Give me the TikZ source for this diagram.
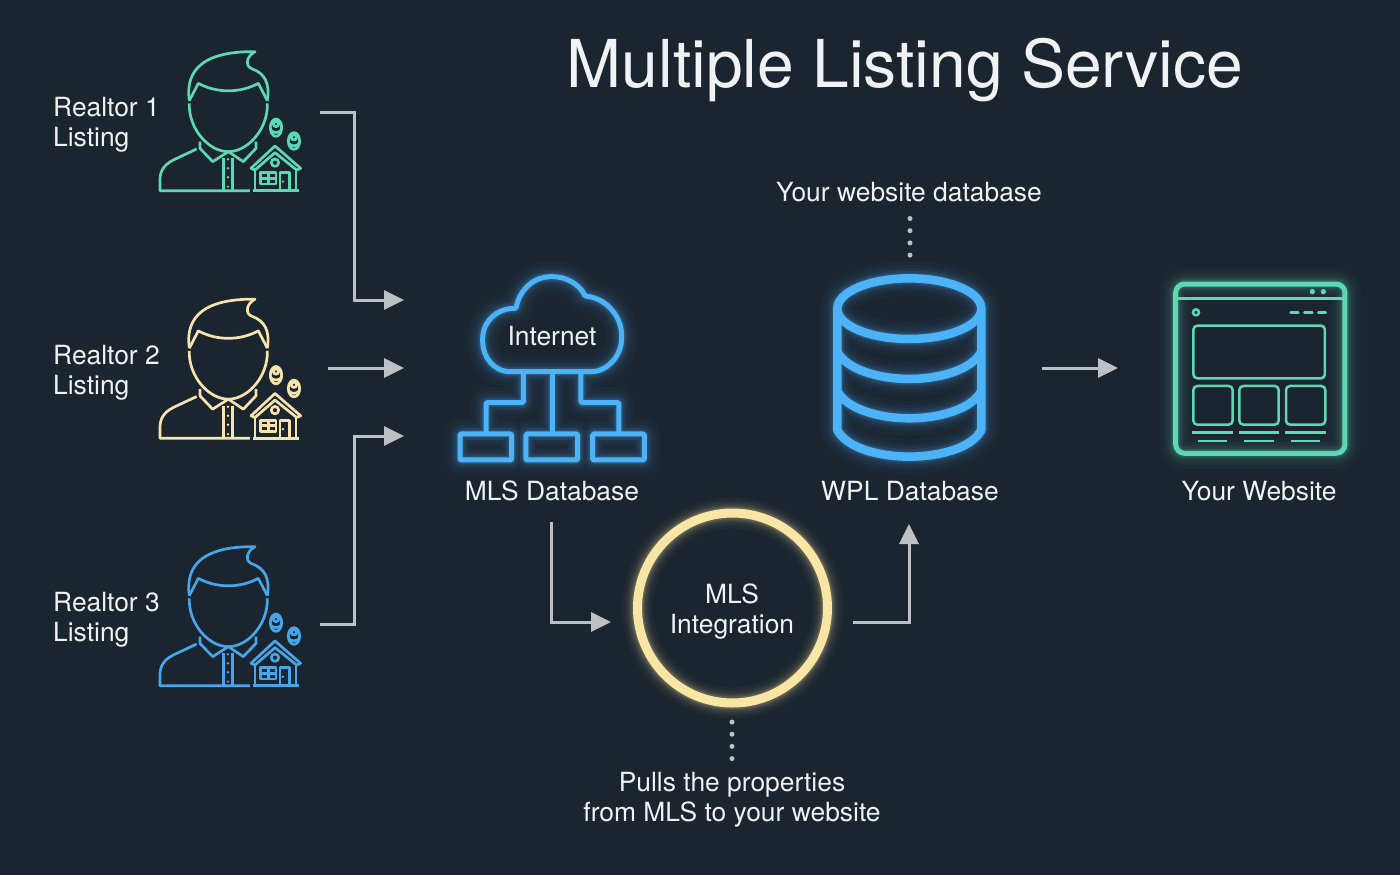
\documentclass[tikz,border=0pt]{standalone}
\usepackage{fontspec}
\setmainfont{TeX Gyre Heros}
\usetikzlibrary{arrows.meta}

\definecolor{bgdark}{HTML}{1B2530}
\definecolor{mintline}{HTML}{5CD8B2}
\definecolor{creamline}{HTML}{F6E4AC}
\definecolor{skyline}{HTML}{47A6EA}
\definecolor{netblue}{HTML}{4DB3F9}
\definecolor{ringcream}{HTML}{F9E5A4}
\definecolor{linkgrey}{HTML}{BDC1C6}
\definecolor{textwhite}{HTML}{F0F2F3}

% a path with a soft halo under it
\newcommand{\glowpath}[3]{
  \foreach \w/\o in {26/0.03,18/0.045,12/0.06,7/0.09,3/0.14}{
    \draw[#1,line width=#2pt+\w pt,opacity=\o,line join=round] #3;
  }
  \draw[#1,line width=#2pt,line join=round] #3;
}

\tikzset{
  link/.style={draw=linkgrey,line width=3pt,-{Triangle[length=20pt,width=19pt]}},
  dotline/.style={draw=linkgrey,line width=5pt,line cap=round,dash pattern=on 0pt off 12.2pt},
  label/.style={text=textwhite,font=\fontsize{26.4}{30}\selectfont,align=center},
  realtorlabel/.style={label,align=left,anchor=west,inner sep=0pt},
  pics/realtor/.style={code={
    \begin{scope}[draw=#1,line width=2.7pt,line join=round,x=0.3333pt,y=-0.3333pt]
      % hair and face
      \draw (148,182) .. controls (138,110) and (165,33) .. (345,35)
            .. controls (318,50) and (315,78) .. (335,86)
            .. controls (375,100) and (390,130) .. (382,182);
      \draw (148,182) -- (175,130) .. controls (230,160) and (300,160) .. (355,130) -- (382,182);
      \draw (148,190) .. controls (145,265) and (205,335) .. (265,335)
            .. controls (325,335) and (385,265) .. (382,190);
      % collar and body
      \draw (180,305) -- (180,325) -- (218,365) -- (265,335) -- (310,365) -- (348,325) -- (348,305);
      \draw (170,327) -- (100,360) .. controls (70,375) and (60,395) .. (60,420) -- (60,452) -- (330,452);
      \draw (250,355) -- (250,452) (278,355) -- (278,452);
      \foreach \d in {358,385,412,440}{ \fill[#1] (264,\d) circle (4); }
      % the house
      \draw (333,385) -- (405,318) -- (482,385) -- (470,390) -- (405,338) -- (345,390) -- cycle;
      \draw (345,392) -- (345,452) (468,392) -- (468,452) (338,452) -- (478,452);
      \draw (362,398) rectangle (408,432) (385,398) -- (385,432) (362,415) -- (408,415);
      \draw (420,452) -- (420,398) -- (448,398) -- (448,452);
      \draw (405,368) circle (11);
      \fill[#1] (429,425) circle (4);
      % the coins
      \draw (408,263) ellipse (17 and 26) (462,303) ellipse (17 and 25);
      \draw (408,252) circle (8) (462,292) circle (8);
      \draw (392,270) .. controls (398,280) and (418,280) .. (424,270);
      \draw (446,310) .. controls (452,320) and (472,320) .. (478,310);
    \end{scope}
  }}
}

\begin{document}
\begin{tikzpicture}[x=1pt,y=-1pt]
  \useasboundingbox[fill=bgdark] (0,0) rectangle (1400,875);

% define the texts
  \node[label,font=\fontsize{66}{70}\selectfont] (title) at (905,70) {Multiple Listing Service};
  \node[realtorlabel] (realtor1) at (53,125) {Realtor 1\\[0pt]Listing};
  \node[realtorlabel] (realtor2) at (53,373) {Realtor 2\\[0pt]Listing};
  \node[realtorlabel] (realtor3) at (53,620) {Realtor 3\\[0pt]Listing};
  \node[label] (internet) at (552,336) {Internet};
  \node[label] (mlslabel) at (552,491) {MLS Database};
  \node[label] (wpllabel) at (910,491) {WPL Database};
  \node[label] (sitelabel) at (1259,491) {Your Website};
  \node[label] (dblabel) at (909,192) {Your website database};
  \node[label] (pulllabel) at (732,800) {Pulls the properties\\from MLS to your website};

% define the realtors
  \pic at (140,40) {realtor=mintline};
  \pic at (140,287.5) {realtor=creamline};
  \pic at (140,535) {realtor=skyline};

% define the cloud and its three boxes
  \begin{scope}[shift={(440,260)},x=0.3333pt,y=-0.3333pt]
    \glowpath{draw=netblue,rounded corners=1.2pt}{5}{(215,335) .. controls (160,335) and (128,290) .. (128,240)
      .. controls (128,185) and (170,145) .. (228,145)
      .. controls (240,85) and (285,50) .. (335,50)
      .. controls (380,50) and (420,75) .. (435,108)
      .. controls (500,115) and (545,170) .. (545,230)
      .. controls (545,290) and (500,335) .. (450,335) -- cycle
      (250,335) -- (250,428) -- (138,428) -- (138,520)
      (337,335) -- (337,520)
      (423,335) -- (423,428) -- (537,428) -- (537,520)
      (60,522) rectangle ++(155,78)
      (258,522) rectangle ++(155,78)
      (458,522) rectangle ++(155,78)}
  \end{scope}

% define the database
  \begin{scope}[shift={(820,260)},x=0.3333pt,y=-0.3333pt]
    \glowpath{draw=netblue}{8.5}{(268,146) ellipse (216 and 91)
      (52,146) -- (52,510) .. controls (80,565) and (180,590) .. (268,590)
      .. controls (356,590) and (456,565) .. (484,510) -- (484,146)
      (52,275) .. controls (80,330) and (180,357) .. (268,357)
      .. controls (356,357) and (456,330) .. (484,275)
      (52,393) .. controls (80,448) and (180,475) .. (268,475)
      .. controls (356,475) and (456,448) .. (484,393)}
  \end{scope}

% define the website
  \begin{scope}[shift={(1160,270)},x=0.3333pt,y=-0.3333pt]
    \glowpath{draw=mintline,rounded corners=9pt}{5}{(47,42) rectangle (555,550)}
    \begin{scope}[draw=mintline,line width=2.5pt]
      \draw (47,85) -- (555,85);
      \fill[mintline] (457,65) circle (8) (490,65) circle (8);
      \draw (108,127) circle (9);
      \foreach \sx/\ex in {392/415,433/457,475/497}{
        \draw[line cap=round] (\sx,127) -- (\ex,127);
      }
      \draw[rounded corners=4pt] (100,167) rectangle (495,325);
      \foreach \bx in {100,238,378}{
        \draw[rounded corners=4pt] (\bx,348) rectangle ++(118,116);
      }
      \foreach \sx/\ex in {97/218,237/357,376/497}{ \draw (\sx,488) -- (\ex,488); }
      \foreach \sx/\ex in {113/202,252/342,392/481}{ \draw (\sx,513) -- (\ex,513); }
    \end{scope}
  \end{scope}

% define the ring
  \foreach \w/\o in {22/0.03,15/0.05,10/0.07,6/0.09,3/0.13}{
    \draw[ringcream,line width=9pt+\w pt,opacity=\o] (732.5,608) circle (95);
  }
  \node[draw=ringcream,line width=9pt,circle,minimum size=190pt,inner sep=0pt,outer sep=0pt] (integ) at (732.5,608) {};
  \node[label] (integlabel) at (732,612) {MLS\\[0pt]Integration};

% define the links
  \coordinate (r1out) at (320,112);
  \coordinate (r1bend) at (354,300);
  \coordinate (r1in) at (404,300);
  \coordinate (r2out) at (328,368);
  \coordinate (r2in) at (404,368);
  \coordinate (r3out) at (320,624);
  \coordinate (r3bend) at (354,436);
  \coordinate (r3in) at (404,436);
  \coordinate (mlsout) at (551,522);
  \coordinate (integin) at (611,622);
  \coordinate (integout) at (853,622);
  \coordinate (wplin) at (909,524);
  \coordinate (wplout) at (1042,368);
  \coordinate (sitein) at (1118,368);
  \coordinate (dbtop) at (910,218.5);
  \coordinate (dbbot) at (910,256);
  \coordinate (pulltop) at (732,722);
  \coordinate (pullbot) at (732,760);

  \draw[link] (r1out) -| (r1bend) -- (r1in);
  \draw[link] (r2out) -- (r2in);
  \draw[link] (r3out) -| (r3bend) -- (r3in);
  \draw[link] (mlsout) |- (integin);
  \draw[link] (integout) -| (wplin);
  \draw[link] (wplout) -- (sitein);
  \draw[dotline] (dbtop) -- (dbbot);
  \draw[dotline] (pulltop) -- (pullbot);
\end{tikzpicture}
\end{document}
